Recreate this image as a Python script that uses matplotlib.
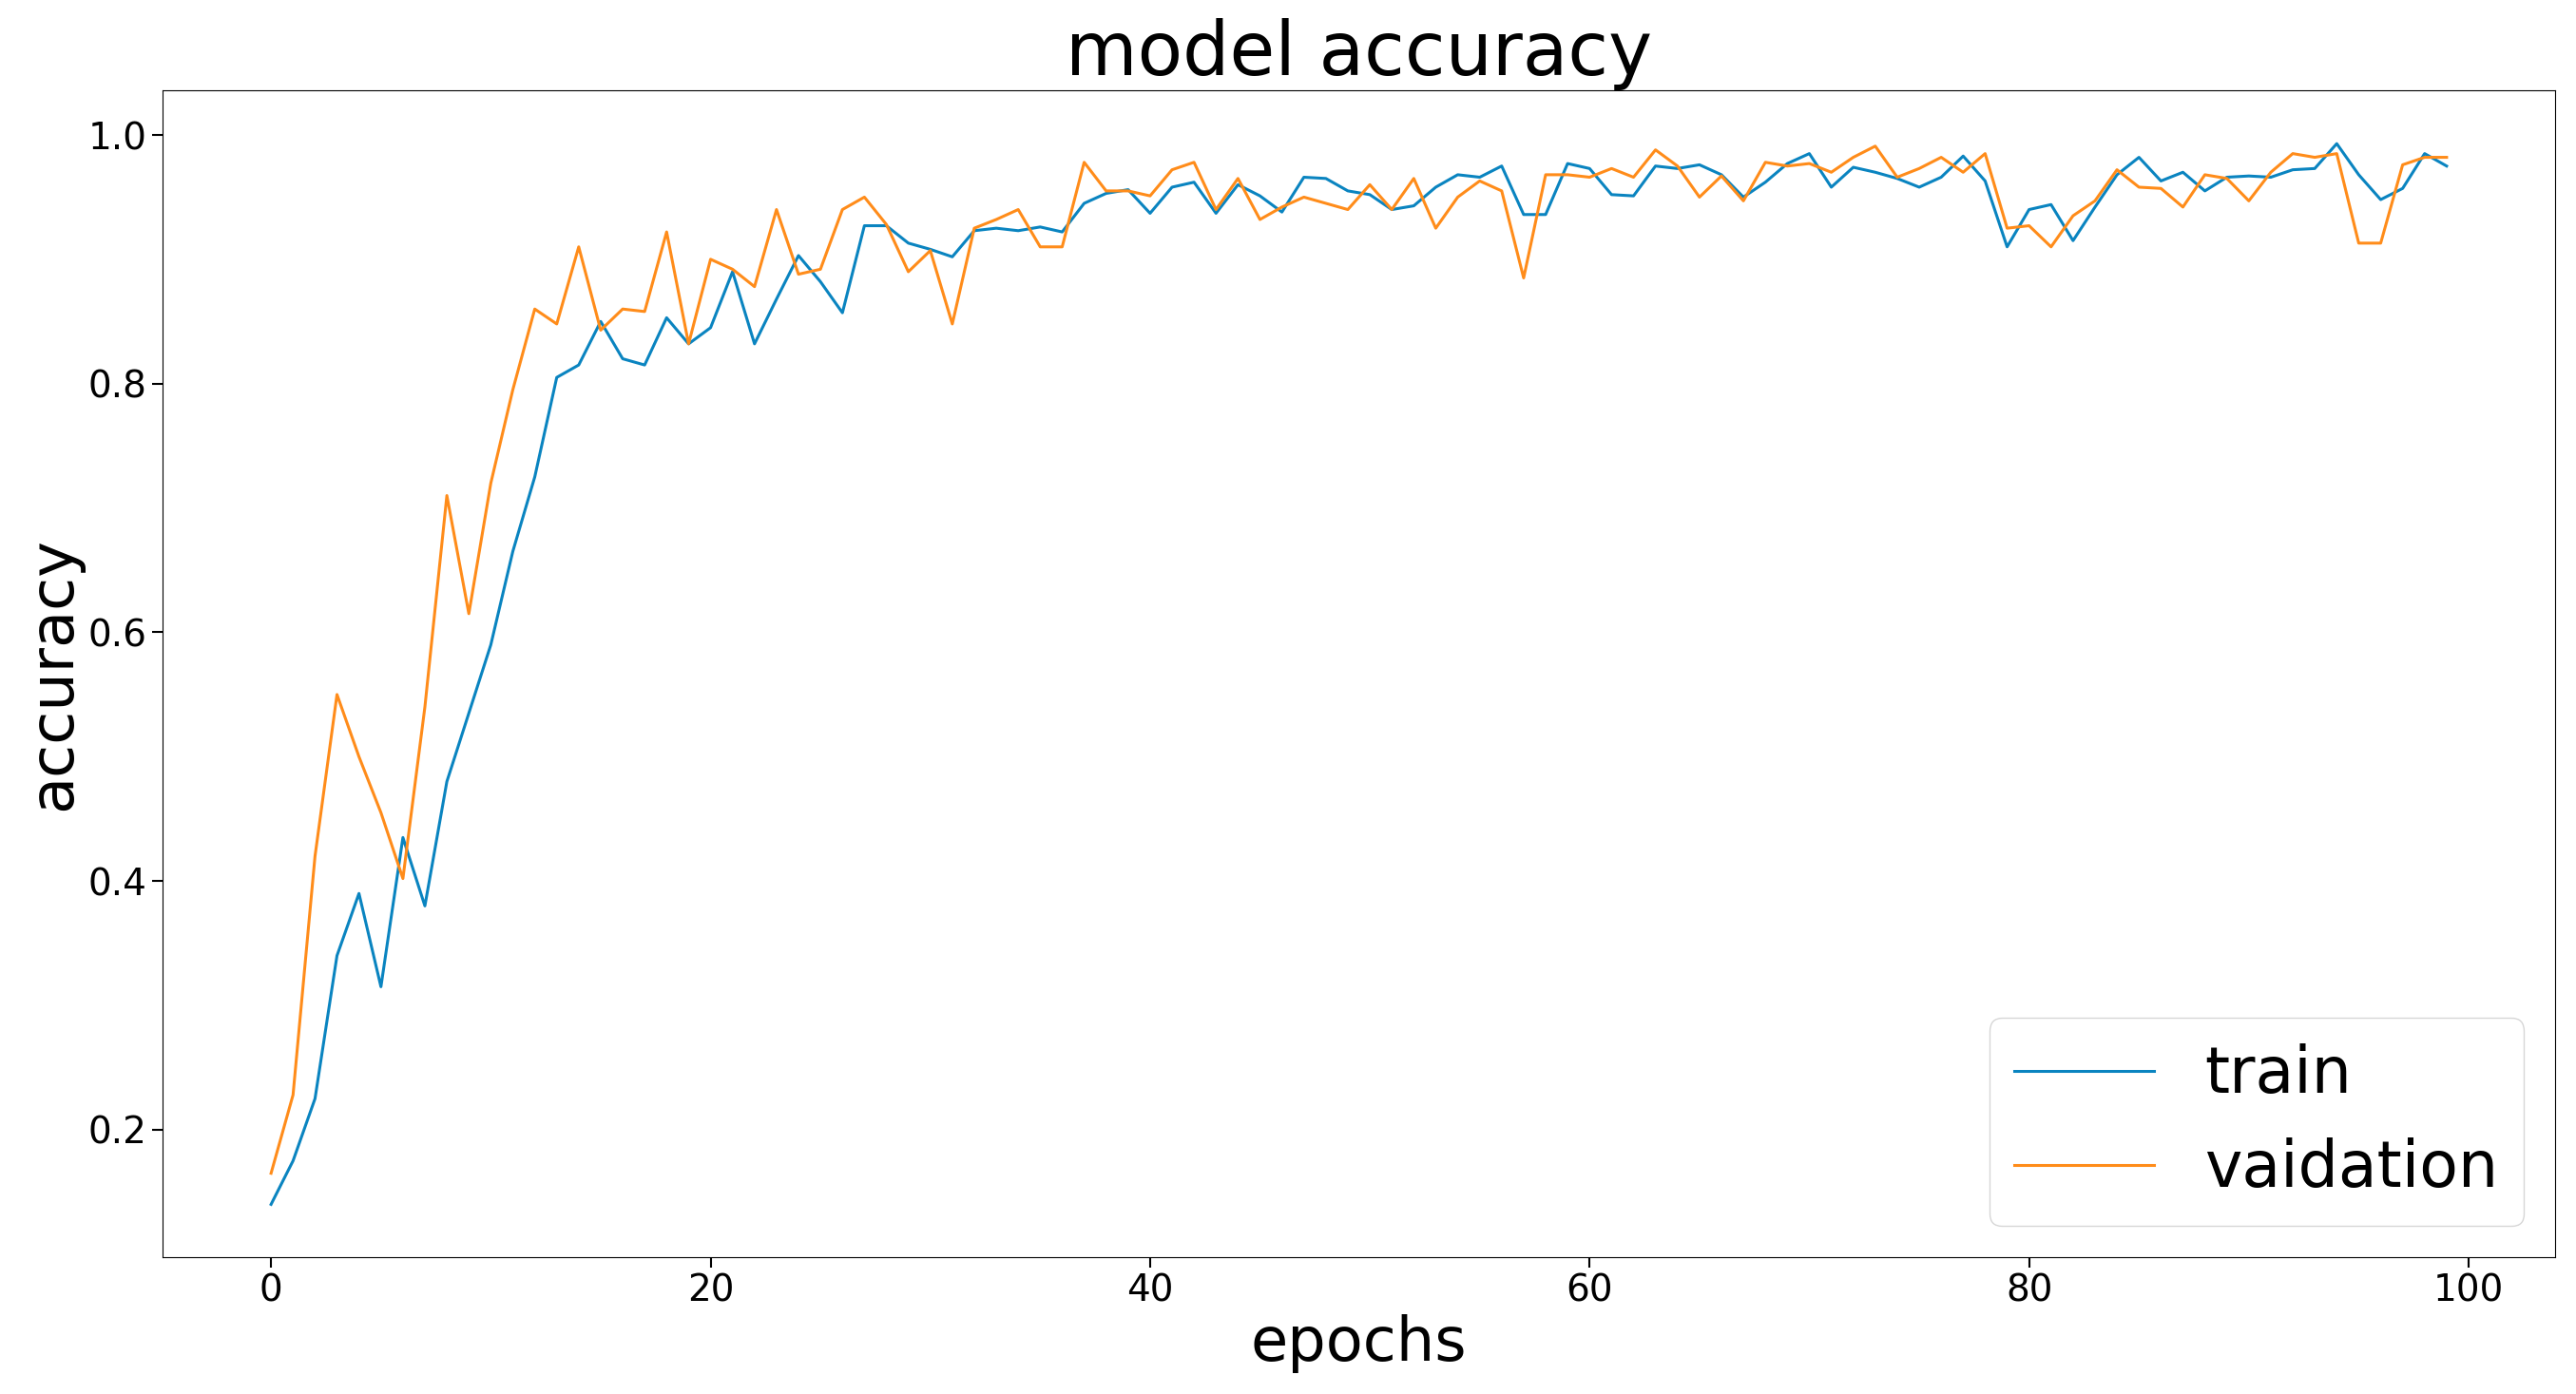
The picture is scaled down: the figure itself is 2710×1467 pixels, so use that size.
import matplotlib
matplotlib.use("Agg")
import matplotlib.pyplot as plt

train = [0.14,0.175,0.225,0.34,0.39,0.315,0.435,0.38,0.48,0.535,0.59,0.665,0.725,0.805,0.815,0.85,0.82,0.815,0.853,0.832,
0.845,0.89,0.832,0.868,0.903,0.882,0.857,0.927,0.927,0.913,0.908,0.902,0.923,0.925,0.923,0.926,0.922,0.945,0.953,0.956,
0.937,0.958,0.962,0.937,0.96,0.951,0.938,0.966,0.965,0.955,0.952,0.94,0.943,0.958,0.968,0.966,0.975,0.936,0.936,0.977,
0.973,0.952,0.951,0.975,0.973,0.976,0.968,0.95,0.962,0.977,0.985,0.958,0.974,0.97,0.965,0.958,0.966,0.983,0.963,0.91,
0.94,0.944,0.915,0.942,0.968,0.982,0.963,0.97,0.955,0.966,0.967,0.966,0.972,0.973,0.993,0.968,0.948,0.957,0.985,0.975]
val = [0.165,0.228,0.42,0.55,0.5,0.455,0.402,0.54,0.71,0.615,0.72,0.795,0.86,0.848,0.91,0.843,0.86,0.858,0.922,0.832,
0.9,0.892,0.878,0.94,0.888,0.892,0.94,0.95,0.928,0.89,0.907,0.848,0.925,0.932,0.94,0.91,0.91,0.978,0.955,0.955,
0.951,0.972,0.978,0.94,0.965,0.932,0.942,0.95,0.945,0.94,0.96,0.94,0.965,0.925,0.95,0.963,0.955,0.885,0.968,0.968,
0.966,0.973,0.966,0.988,0.975,0.95,0.967,0.947,0.978,0.975,0.977,0.97,0.982,0.991,0.966,0.973,0.982,0.97,0.985,0.925,
0.927,0.91,0.935,0.947,0.972,0.958,0.957,0.942,0.968,0.965,0.947,0.97,0.985,0.982,0.985,0.913,0.913,0.976,0.982,0.982]
epochs = list(range(len(train)))

fig = plt.figure(figsize=(27.1, 14.67), dpi=100)
ax = fig.add_axes([0.063, 0.098, 0.929, 0.837])
ax.plot(epochs, train, color='#0a84c0', lw=2.2, label='train')
ax.plot(epochs, val, color='#ff8c1a', lw=2.2, label='vaidation')
ax.set_title('model accuracy', fontsize=56)
ax.set_xlabel('epochs', fontsize=46)
ax.set_ylabel('accuracy', fontsize=46)
ax.tick_params(labelsize=28, length=8, width=1.5)
ax.set_yticks([0.2, 0.4, 0.6, 0.8, 1.0])
ax.set_xticks([0, 20, 40, 60, 80, 100])
ax.legend(loc='lower right', fontsize=48, handlelength=2.2)
fig.savefig('out.png', dpi=100)
